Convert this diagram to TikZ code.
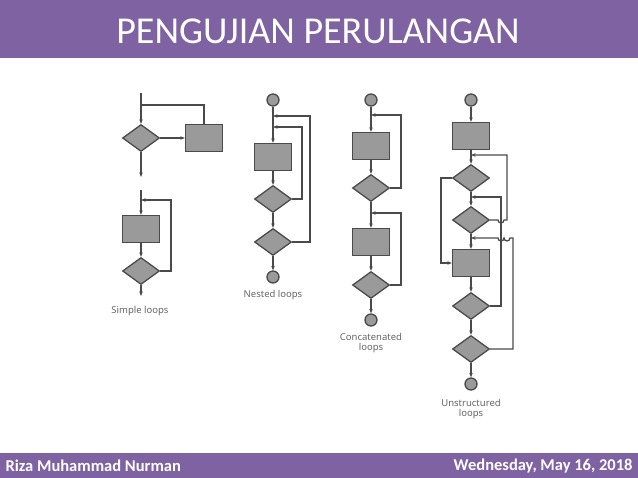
\documentclass[tikz,border=0pt]{standalone}
\usepackage{fontspec}
\setmainfont{Carlito}
\newfontfamily\lbl{Noto Sans}
\usetikzlibrary{shapes.geometric,arrows.meta}
\definecolor{band}{HTML}{7E62A1}
\definecolor{ln}{HTML}{4A4A4A}
\definecolor{fl}{HTML}{9A9A9A}
\begin{document}
\begin{tikzpicture}[x=1pt,y=-1pt,
  wire/.style={draw=ln,line width=1.3pt},
  arr/.style={wire,-{Stealth[length=4.5pt,width=3.5pt]}},
  dia/.style={diamond,draw=ln,fill=fl,line width=1.3pt,minimum width=37pt,minimum height=27pt,inner sep=0pt},
  blk/.style={rectangle,draw=ln,fill=fl,line width=1.3pt,minimum width=37pt,minimum height=27pt,inner sep=0pt},
  term/.style={circle,draw=ln,fill=fl,line width=1.3pt,minimum size=12pt,inner sep=0pt},
  caplbl/.style={font=\lbl\fontsize{9.5}{10.5}\selectfont,text=ln!85,align=center}]
\useasboundingbox (0,0) rectangle (638,478);
\fill[band] (0,0) rectangle (638,58);
\node[text=white,font=\fontsize{38}{42}\selectfont] (title) at (318,31) {PENGUJIAN PERULANGAN};
\fill[band] (0,453) rectangle (638,478);
\node[text=white,font=\bfseries\fontsize{16.5}{18}\selectfont,anchor=west] (auth) at (2,466) {Riza Muhammad Nurman};
\node[text=white,font=\bfseries\fontsize{16.5}{18}\selectfont,anchor=east] (date) at (636,466) {Wednesday, May 16, 2018};

% Simple loops
\coordinate (s0) at (141,93);
\node[dia] (sd1) at (141,138) {};
\node[blk] (sb1) at (204,138) {};
\coordinate (sj1) at (141,105);
\coordinate (sout1) at (141,177);
\draw[wire] (s0) -- (sj1);
\draw[arr] (sj1) -- (sd1.north);
\draw[wire] (sb1.north) |- (sj1);
\draw[arr] (sd1.east) -- (sb1.west);
\draw[arr] (sd1.south) -- (sout1);
\coordinate (s2) at (141,190);
\coordinate (sj2) at (141,200);
\node[blk] (sb2) at (141,229) {};
\node[dia] (sd2) at (141,271) {};
\coordinate (sout2) at (141,296);
\draw[wire] (s2) -- (sj2);
\draw[arr] (sj2) -- (sb2.north);
\draw[arr] (sb2.south) -- (sd2.north);
\draw[arr] (sd2.east) -| (171,200) -- (sj2);
\draw[arr] (sd2.south) -- (sout2);
\node[caplbl] (scap) at (140,311) {Simple loops};

% Nested loops
\node[term] (nc1) at (273,100) {};
\node[blk] (nb) at (273,157) {};
\node[dia] (nd1) at (273,199) {};
\node[dia] (nd2) at (273,242) {};
\node[term] (nc2) at (273,277) {};
\draw[arr] (nc1.south) -- (nb.north);
\draw[arr] (nb.south) -- (nd1.north);
\draw[arr] (nd1.south) -- (nd2.north);
\draw[arr] (nd2.south) -- (nc2.north);
\draw[arr] (nd1.east) -| (302,127) -- (273,127);
\draw[arr] (nd2.east) -| (310,116) -- (273,116);
\node[caplbl] (ncap) at (273,295) {Nested loops};

% Concatenated loops
\node[term] (cc1) at (371,100) {};
\node[blk] (cb1) at (371,146) {};
\node[dia] (cd1) at (371,188) {};
\node[blk] (cb2) at (371,242) {};
\node[dia] (cd2) at (371,285) {};
\node[term] (cc2) at (371,320) {};
\draw[arr] (cc1.south) -- (cb1.north);
\draw[arr] (cb1.south) -- (cd1.north);
\draw[arr] (cd1.south) -- (cb2.north);
\draw[arr] (cb2.south) -- (cd2.north);
\draw[arr] (cd2.south) -- (cc2.north);
\draw[arr] (cd1.east) -| (401,115) -- (371,115);
\draw[arr] (cd2.east) -| (401,213) -- (371,213);
\node[caplbl] (ccap) at (371,343) {Concatenated\\loops};

% Unstructured loops
\node[term] (uc1) at (471,100) {};
\node[blk] (ub1) at (471,136) {};
\node[dia] (ua) at (471,178) {};
\node[dia] (ub) at (471,220) {};
\node[blk] (ub2) at (471,263) {};
\node[dia] (uc) at (471,306) {};
\node[dia] (ud) at (471,349) {};
\node[term] (uc2) at (471,384) {};
\draw[arr] (uc1.south) -- (ub1.north);
\draw[arr] (ub1.south) -- (ua.north);
\draw[arr] (ua.south) -- (ub.north);
\draw[arr] (ub.south) -- (ub2.north);
\draw[arr] (ub2.south) -- (uc.north);
\draw[arr] (uc.south) -- (ud.north);
\draw[arr] (ud.south) -- (uc2.north);
\draw[arr] (ua.west) -| (441,263) -- (ub2.west);
\draw[arr] (ub.east) -- (498,220) arc (180:0:3) -- (507,220) -- (507,155) -- (471,155);
\draw[arr] (uc.east) -- (501,306) -- (501,197) -- (471,197);
\draw[arr] (ud.east) -- (513,349) -- (513,238) -- (510,238) arc (0:180:3) -- (504,238) arc (0:180:3) -- (471,238);
\node[caplbl] (ucap) at (471,409) {Unstructured\\loops};
\end{tikzpicture}
\end{document}
